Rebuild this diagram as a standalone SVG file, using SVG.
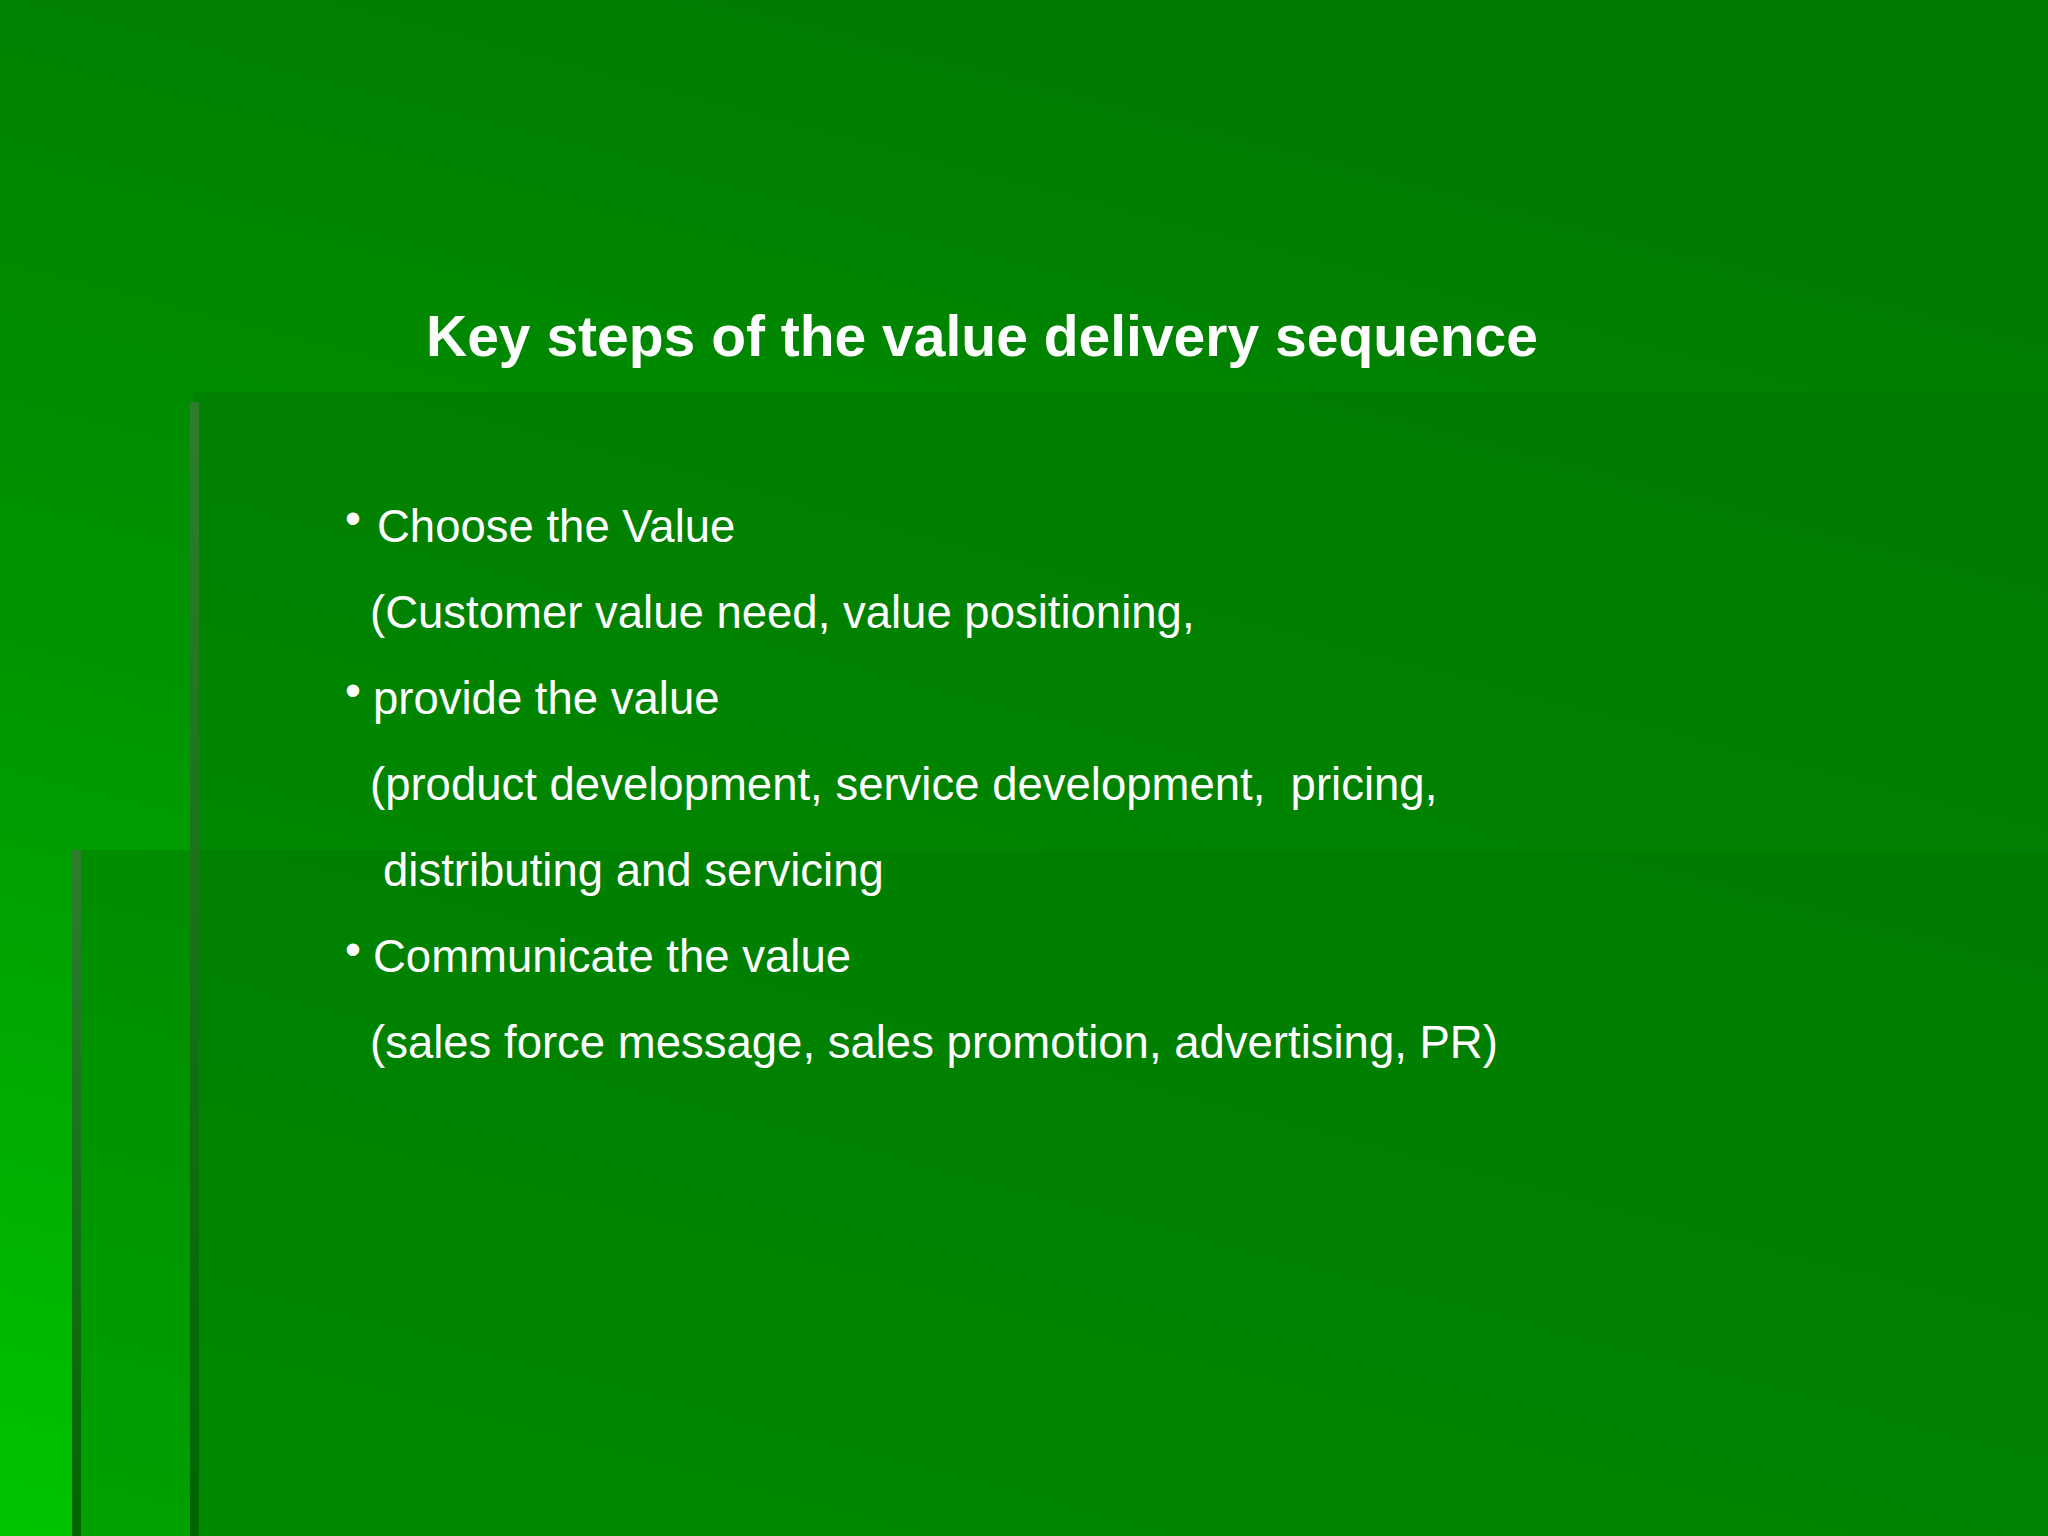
<svg xmlns="http://www.w3.org/2000/svg" width="2048" height="1536" viewBox="0 0 2048 1536">
<defs>
<linearGradient id="bg" x1="0" y1="1" x2="0.35" y2="0">
<stop offset="0" stop-color="#00c400"/>
<stop offset="0.5" stop-color="#009600"/>
<stop offset="1" stop-color="#007d00"/>
</linearGradient>
<linearGradient id="edge" x1="0" y1="0" x2="0" y2="1">
<stop offset="0" stop-color="#2e7d2e"/>
<stop offset="1" stop-color="#006400"/>
</linearGradient>
<style>
.t{font-family:"Liberation Sans",Arial,sans-serif;fill:#fff;font-size:45.5px}
.h{font-family:"Liberation Sans",Arial,sans-serif;fill:#fff;font-size:57px;font-weight:bold}
</style>
</defs>
<rect width="2048" height="1536" fill="url(#bg)"/>
<g id="panel2"><rect x="72" y="850" width="1976" height="686" fill="#007800" opacity="0.45"/><rect x="72" y="850" width="9" height="686" fill="url(#edge)"/></g>
<g id="panel1"><rect x="193" y="392" width="1855" height="1144" fill="#007800" opacity="0.55"/><rect x="190" y="402" width="9" height="1134" fill="url(#edge)"/></g>
<text class="h" x="426" y="356">Key steps of the value delivery sequence</text>
<g id="body">
<text class="t" x="345" y="534" font-size="28">•</text><text class="t" x="377" y="542">Choose the Value</text>
<text class="t" x="370" y="628">(Customer value need, value positioning,</text>
<text class="t" x="345" y="706" font-size="28">•</text><text class="t" x="373" y="714">provide the value</text>
<text class="t" x="370" y="800" xml:space="preserve">(product development, service development,  pricing,</text>
<text class="t" x="383" y="886">distributing and servicing</text>
<text class="t" x="345" y="965" font-size="28">•</text><text class="t" x="373" y="972">Communicate the value</text>
<text class="t" x="370" y="1058">(sales force message, sales promotion, advertising, PR)</text>
</g>
</svg>
